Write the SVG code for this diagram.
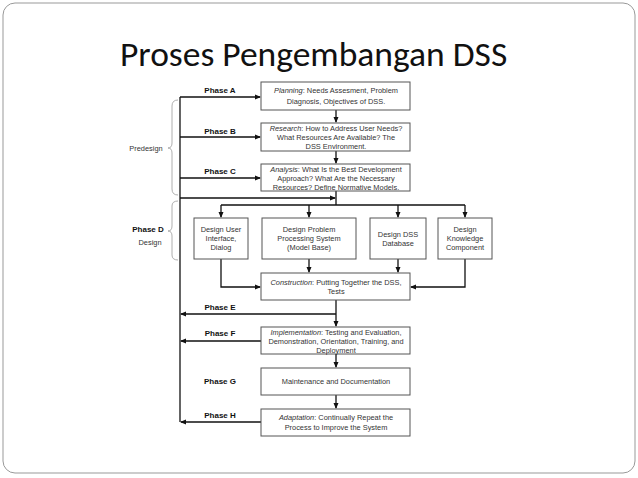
<svg xmlns="http://www.w3.org/2000/svg" width="638" height="478" viewBox="0 0 638 478">
<style>
.b{fill:#fff;stroke:#555;stroke-width:1}
.t{font-family:"Liberation Sans",Arial,sans-serif;font-size:7.4px;fill:#333;text-anchor:middle}
.p{font-family:"Liberation Sans",Arial,sans-serif;font-size:8px;font-weight:bold;fill:#111;text-anchor:middle}
.l{stroke:#111;stroke-width:1.3;fill:none}
.br{stroke:#999;stroke-width:0.8;fill:none}
</style>
<defs><marker id="a" markerWidth="6" markerHeight="6" refX="5" refY="3" orient="auto" markerUnits="userSpaceOnUse"><path d="M0,0.5 L6,3 L0,5.5z" fill="#111"/></marker></defs>
<rect x="3" y="3" width="632" height="470" rx="12" fill="#fff" stroke="#999"/>
<text x="120" y="66" font-family="Carlito,'Open Sans',sans-serif" font-size="35.5" fill="#111">Proses Pengembangan DSS</text>
<g id="connectors">
<path class="l" d="M180,97 V422"/>
<path class="l" d="M180,97 H260" marker-end="url(#a)"/>
<path class="l" d="M180,137 H260" marker-end="url(#a)"/>
<path class="l" d="M180,178 H260" marker-end="url(#a)"/>
<path class="l" d="M180,198 H335" marker-end="url(#a)"/>
<path class="l" d="M336,110 V122" marker-end="url(#a)"/>
<path class="l" d="M336,151 V163" marker-end="url(#a)"/>
<path class="l" d="M336,191 V205"/>
<path class="l" d="M221,205 H465"/>
<path class="l" d="M221,205 V217" marker-end="url(#a)"/>
<path class="l" d="M309,205 V217" marker-end="url(#a)"/>
<path class="l" d="M398,205 V217" marker-end="url(#a)"/>
<path class="l" d="M465,205 V217" marker-end="url(#a)"/>
<path class="l" d="M309,259 V272" marker-end="url(#a)"/>
<path class="l" d="M398,259 V272" marker-end="url(#a)"/>
<path class="l" d="M221,259 V287 H260" marker-end="url(#a)"/>
<path class="l" d="M465,259 V287 H411" marker-end="url(#a)"/>
<path class="l" d="M336,300 V326" marker-end="url(#a)"/>
<path class="l" d="M336,314 H181" marker-end="url(#a)"/>
<path class="l" d="M261,341 H181" marker-end="url(#a)"/>
<path class="l" d="M336,354 V367" marker-end="url(#a)"/>
<path class="l" d="M336,395 V408" marker-end="url(#a)"/>
<path class="l" d="M261,422 H181" marker-end="url(#a)"/>
</g>
<g id="labels">
<text class="p" x="220" y="93">Phase A</text>
<text class="p" x="220" y="134">Phase B</text>
<text class="p" x="220" y="174">Phase C</text>
<text class="p" x="148" y="232">Phase D</text>
<text class="t" x="150" y="245">Design</text>
<text class="t" x="146" y="151">Predesign</text>
<text class="p" x="220" y="310">Phase E</text>
<text class="p" x="220" y="336">Phase F</text>
<text class="p" x="220" y="384">Phase G</text>
<text class="p" x="220" y="418">Phase H</text>
<path class="br" d="M178,100 Q172,100 172,106 V143 Q172,148 168,148 Q172,148 172,153 V189 Q172,195 178,195"/>
<path class="br" d="M178,201 Q172,201 172,206 V226 Q172,231 168,231 Q172,231 172,236 V255 Q172,260 178,260"/>
</g>
<g id="nA"><rect class="b" x="261" y="82" width="149" height="28"/><text class="t" x="336" y="93"><tspan font-style="italic">Planning</tspan>: Needs Assesment, Problem</text><text class="t" x="336" y="104">Diagnosis, Objectives of DSS.</text></g>
<g id="nB"><rect class="b" x="261" y="123" width="149" height="28"/><text class="t" x="336" y="131"><tspan font-style="italic">Research</tspan>: How to Address User Needs?</text><text class="t" x="336" y="140">What Resources Are Available? The</text><text class="t" x="336" y="149">DSS Environment.</text></g>
<g id="nC"><rect class="b" x="261" y="164" width="149" height="27"/><text class="t" x="336" y="172"><tspan font-style="italic">Analysis</tspan>: What Is the Best Development</text><text class="t" x="336" y="181">Approach? What Are the Necessary</text><text class="t" x="336" y="189.5">Resources? Define Normative Models.</text></g>
<g id="nUI"><rect class="b" x="194" y="218" width="54" height="41"/><text class="t" x="221" y="232">Design User</text><text class="t" x="221" y="241">Interface,</text><text class="t" x="221" y="250">Dialog</text></g>
<g id="nPPS"><rect class="b" x="262" y="218" width="94" height="41"/><text class="t" x="309" y="232">Design Problem</text><text class="t" x="309" y="241">Processing System</text><text class="t" x="309" y="250">(Model Base)</text></g>
<g id="nDB"><rect class="b" x="370" y="218" width="56" height="41"/><text class="t" x="398" y="237">Design DSS</text><text class="t" x="398" y="246">Database</text></g>
<g id="nKC"><rect class="b" x="438" y="218" width="54" height="41"/><text class="t" x="465" y="232">Design</text><text class="t" x="465" y="241">Knowledge</text><text class="t" x="465" y="250">Component</text></g>
<g id="nCons"><rect class="b" x="261" y="273" width="149" height="27"/><text class="t" x="336" y="285"><tspan font-style="italic">Construction</tspan>: Putting Together the DSS,</text><text class="t" x="336" y="294">Tests</text></g>
<g id="nF"><rect class="b" x="261" y="327" width="149" height="27"/><text class="t" x="336" y="335"><tspan font-style="italic">Implementation</tspan>: Testing and Evaluation,</text><text class="t" x="336" y="344">Demonstration, Orientation, Training, and</text><text class="t" x="336" y="352.5">Deployment</text></g>
<g id="nG"><rect class="b" x="261" y="368" width="149" height="27"/><text class="t" x="336" y="384">Maintenance and Documentation</text></g>
<g id="nH"><rect class="b" x="261" y="409" width="149" height="27"/><text class="t" x="336" y="420"><tspan font-style="italic">Adaptation</tspan>: Continually Repeat the</text><text class="t" x="336" y="430">Process to Improve the System</text></g>
</svg>
